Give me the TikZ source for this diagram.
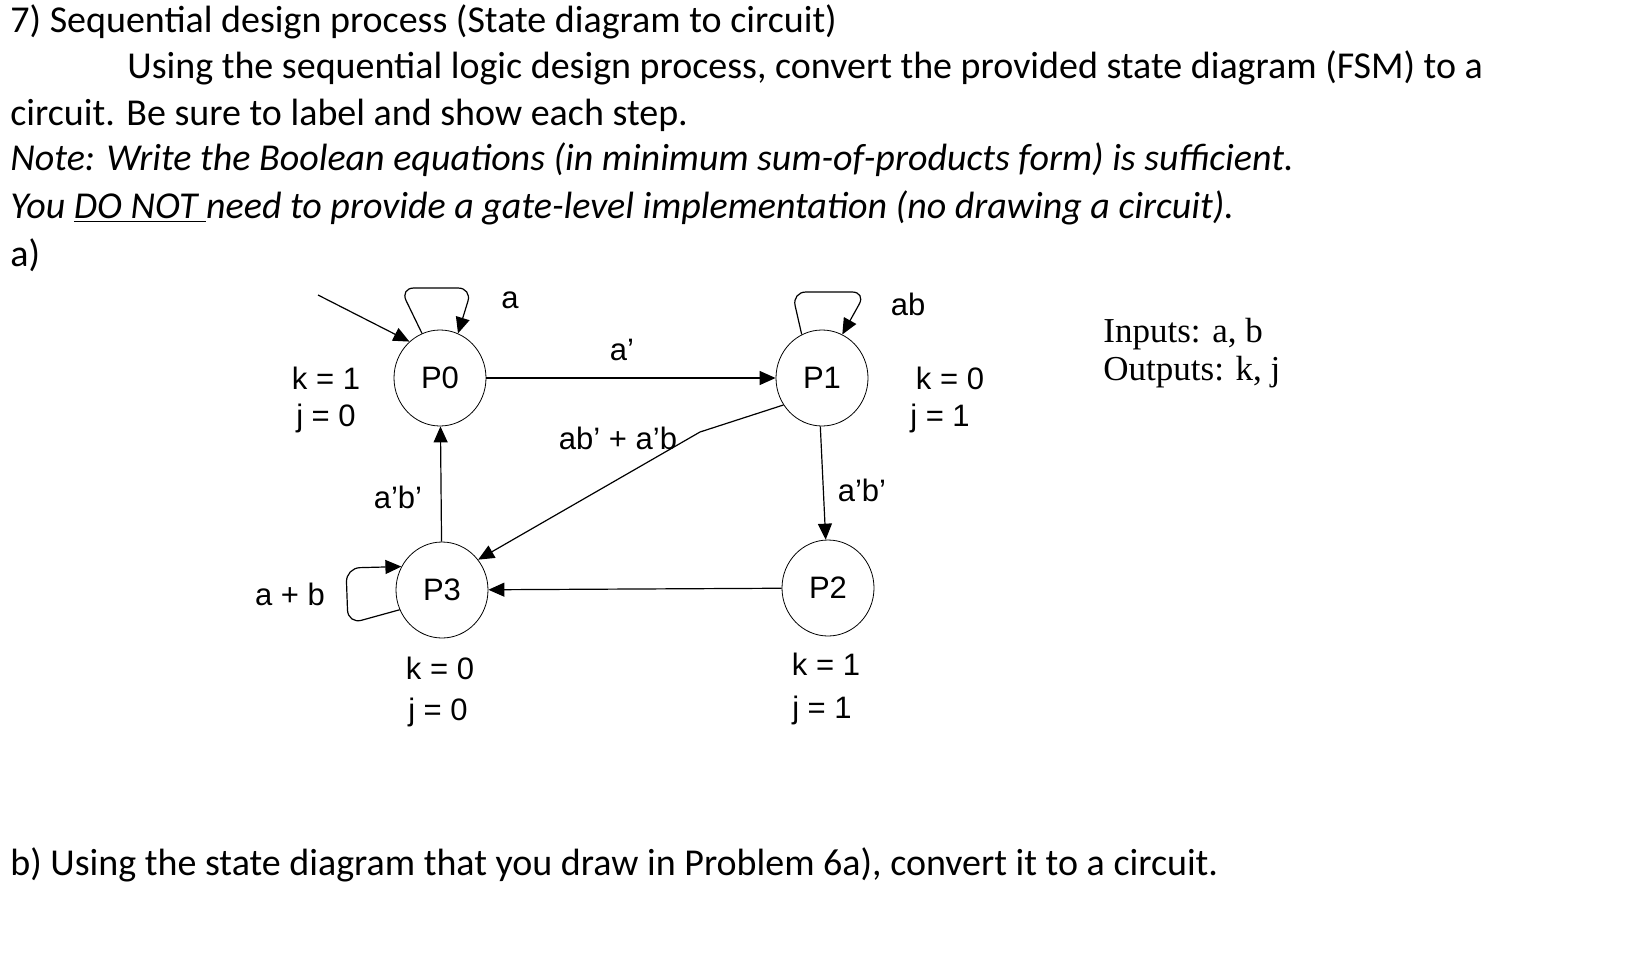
\documentclass[tikz,border=0pt]{standalone}
\usepackage{fontspec}
\setmainfont{Carlito}
\newfontfamily\arialf{Liberation Sans}
\newfontfamily\serf{Liberation Serif}
\usetikzlibrary{arrows.meta,shapes.geometric}
\begin{document}
\begin{tikzpicture}[x=0.5pt,y=-0.5pt,
  txt/.style={anchor=west,inner sep=0,font=\fontsize{19}{22}\selectfont},
  lbl/.style={inner sep=0,font=\arialf\fontsize{15.5}{18}\selectfont},
  st/.style={draw,ellipse,minimum width=46pt,minimum height=48pt,inner sep=0,font=\arialf\fontsize{15.5}{18}\selectfont},
  ar/.style={-{Triangle[length=8pt,width=7pt]},line width=0.6pt},
  loop/.style={ar,rounded corners=7pt},
  ]
\useasboundingbox (0,0) rectangle (1644,964);
\node[txt] (t1) at (10,22) {7) Sequential design process (State diagram to circuit)};
\node[txt] (t2) at (127,68) {Using the sequential logic design process, convert the provided state diagram (FSM) to a};
\node[txt] (t3) at (10,115) {circuit. Be sure to label and show each step.};
\node[txt] (t4) at (10,160) {\itshape Note: Write the Boolean equations (in minimum sum-of-products form) is sufficient.};
\node[txt] (t5) at (10,208) {\itshape You \underline{DO NOT }need to provide a gate-level implementation (no drawing a circuit).};
\node[txt] (t6) at (10,255) {a)};
\node[txt] (t7) at (10,865) {b) Using the state diagram that you draw in Problem 6a), convert it to a circuit.};

\node[st] (P0) at (440,378) {P0};
\node[st] (P1) at (822,378) {P1};
\node[st] (P3) at (442,590) {P3};
\node[st] (P2) at (828,588) {P2};

\coordinate (init) at (318,295);
\draw[ar] (init) -- (P0.130);
\coordinate (l0a) at (400,288); \coordinate (l0b) at (472,288);
\draw[loop] (P0.112) -- (l0a) -- (l0b) -- (P0.68);
\coordinate (l1a) at (792,292); \coordinate (l1b) at (866,292);
\draw[loop] (P1.115) -- (l1a) -- (l1b) -- (P1.65);
\coordinate (l3a) at (348,624); \coordinate (l3b) at (346,568);
\draw[loop] (P3.205) -- (l3a) -- (l3b) -- (P3.150);
\draw[ar] (P0) -- (P1);
\coordinate (kink) at (700,432);
\draw[ar] (P1.215) -- (kink) -- (P3.40);
\draw[ar] (P1.268) -- (P2);
\draw[ar] (P2) -- (P3);
\draw[ar] (P3) -- (P0);

\node[lbl] (la) at (510,300) {a};
\node[lbl] (lab) at (908,304) {ab};
\node[lbl] (lap) at (622,350) {a’};
\node[lbl] (lx) at (618,438) {ab’ + a’b};
\node[lbl] (l30) at (398,497) {a’b’};
\node[lbl] (l12) at (862,490) {a’b’};
\node[lbl] (l33) at (290,594) {a + b};
\node[lbl] (k0) at (326,378) {k = 1};
\node[lbl] (j0) at (326,418) {j = 0};
\node[lbl] (k1) at (950,378) {k = 0};
\node[lbl] (j1) at (940,418) {j = 1};
\node[lbl] (k3) at (440,668) {k = 0};
\node[lbl] (j3) at (438,712) {j = 0};
\node[lbl] (k2) at (826,664) {k = 1};
\node[lbl] (j2) at (822,710) {j = 1};
\node[anchor=west,inner sep=0,font=\serf\fontsize{17.5}{19}\selectfont,align=left] (io) at (1103,353) {Inputs: a, b\\Outputs: k, j};
\end{tikzpicture}
\end{document}
